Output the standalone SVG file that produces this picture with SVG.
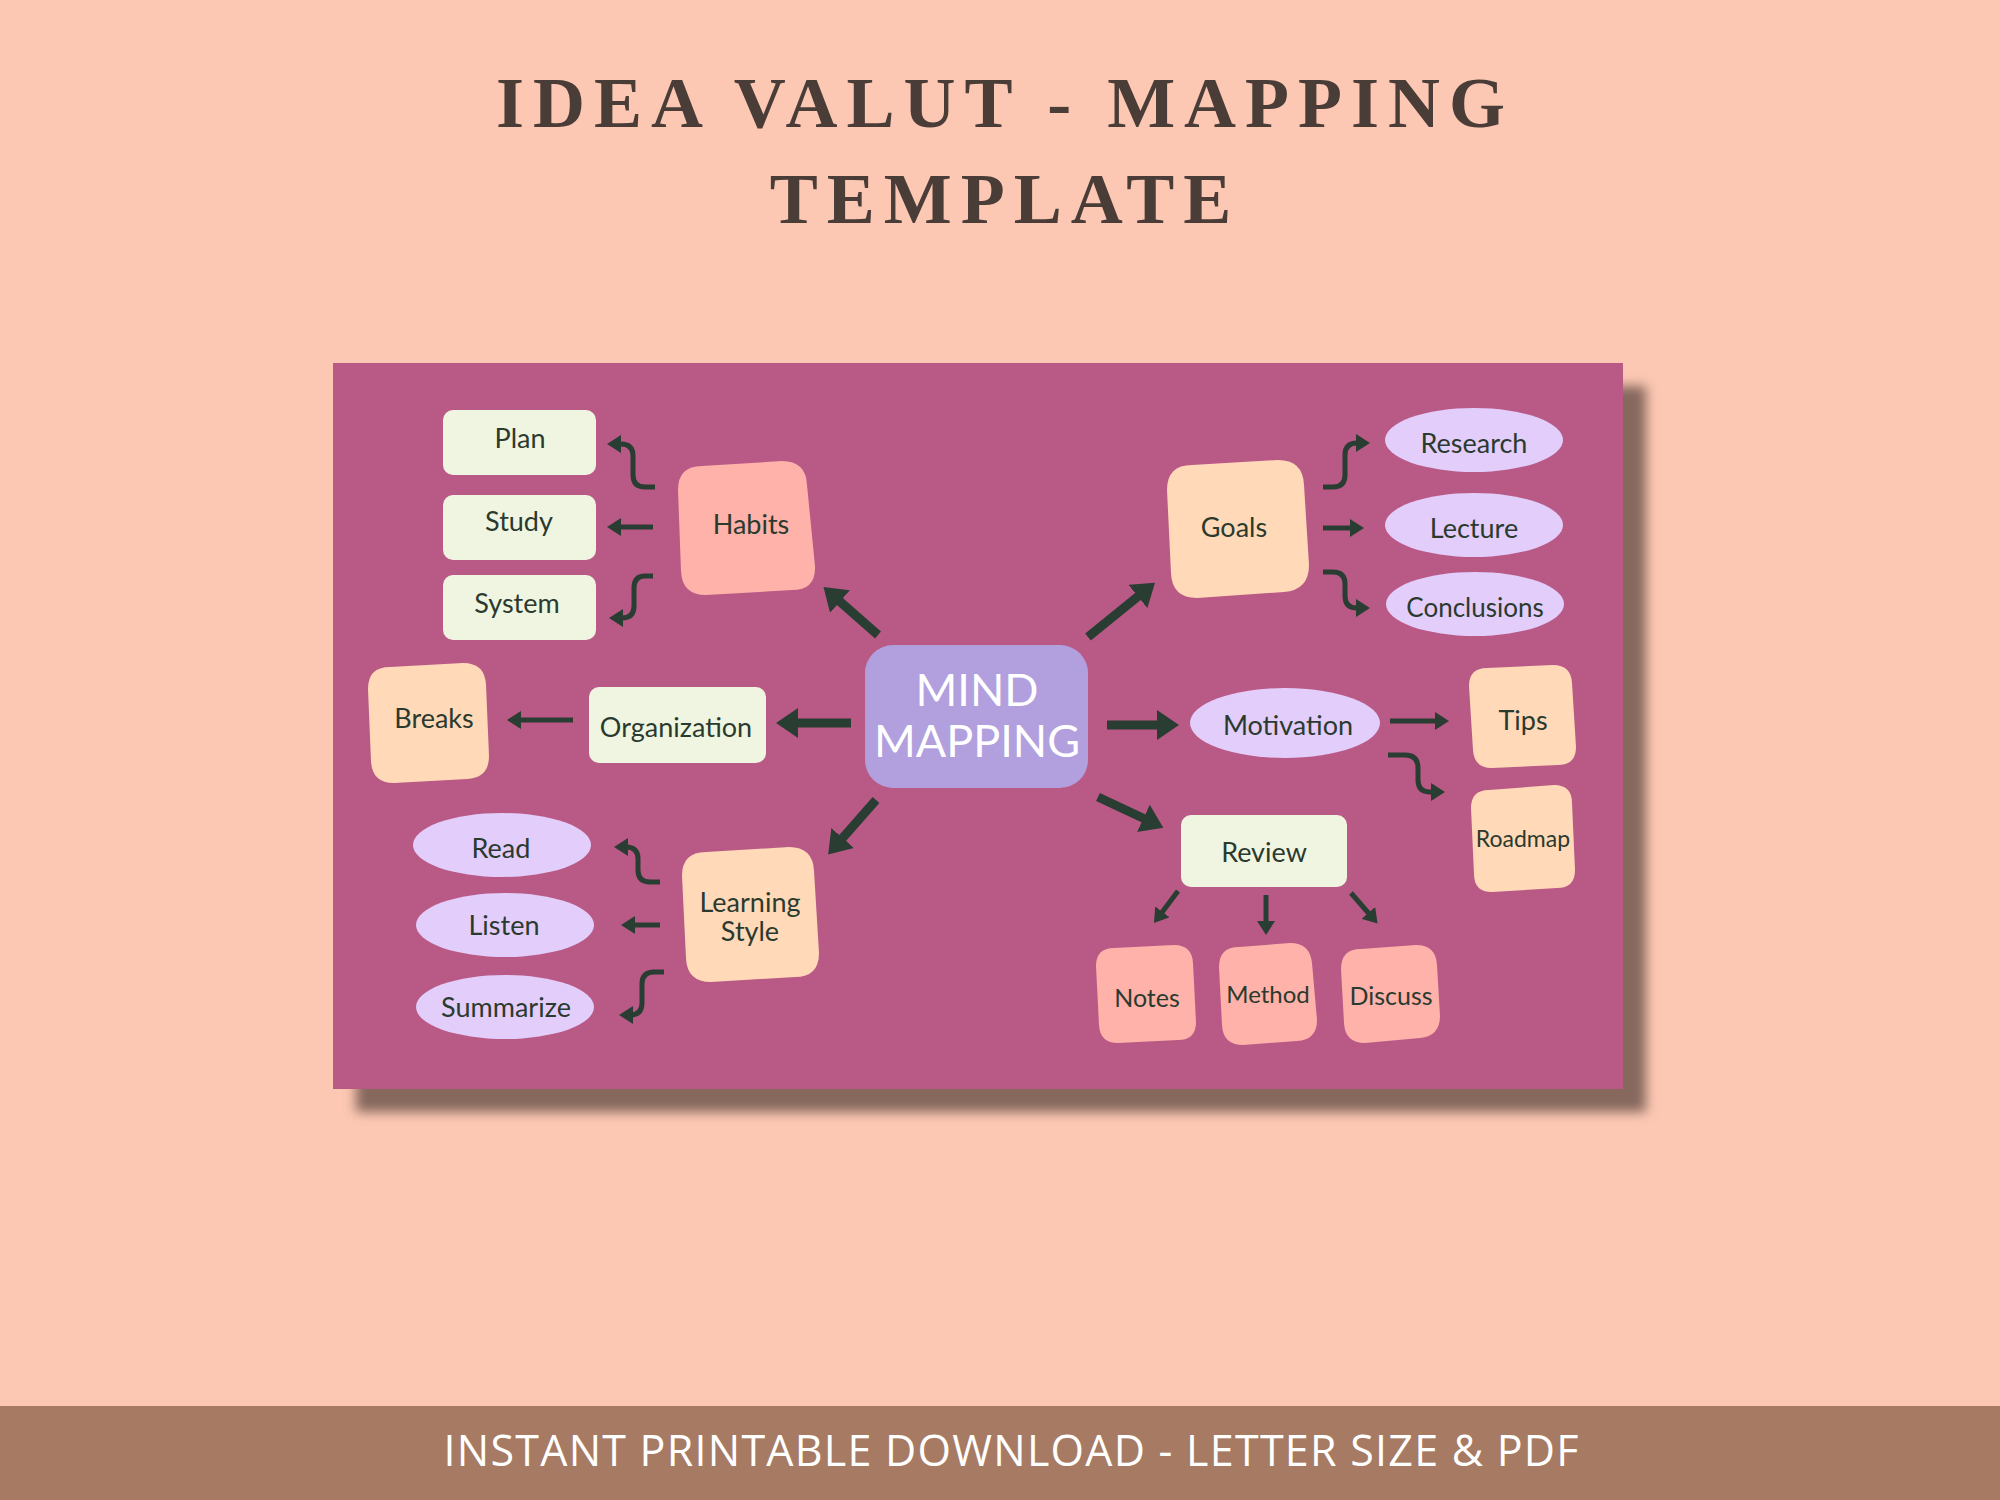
<svg xmlns="http://www.w3.org/2000/svg" width="2000" height="1500" viewBox="0 0 2000 1500">
<defs>
<style>
.t{font-family:Lato,"Liberation Sans",sans-serif;fill:#2B3A2F;text-anchor:middle}
.green{fill:#F0F5E1}
.pink{fill:#FEB2A9}
.peach{fill:#FFD9B8}
.lav{fill:#E2CDFB}
.sm{fill:none;stroke:#2A3D32;stroke-width:5;stroke-linecap:butt;stroke-linejoin:round;marker-end:url(#hs)}
.bg{fill:none;stroke:#2A3D32;stroke-width:9;stroke-linecap:butt;marker-end:url(#hb)}
</style>
<marker id="hs" viewBox="0 0 14 18" markerUnits="userSpaceOnUse" markerWidth="14" markerHeight="18" refX="4" refY="9" orient="auto">
<path d="M0,0 L14,9 L0,18 Z" fill="#2A3D32"/>
</marker>
<marker id="hb" viewBox="0 0 22 30" markerUnits="userSpaceOnUse" markerWidth="22" markerHeight="30" refX="4" refY="15" orient="auto">
<path d="M0,0 L22,15 L0,30 Z" fill="#2A3D32"/>
</marker>
<filter id="blur" x="-5%" y="-5%" width="110%" height="110%">
<feGaussianBlur stdDeviation="6"/>
</filter>
</defs>
<rect width="2000" height="1500" fill="#FCC8B3"/>
<g id="title" font-family="'Liberation Serif',serif" font-weight="bold" font-size="72" fill="#4A3D38" text-anchor="middle" letter-spacing="9">
<text x="1005" y="127">IDEA VALUT - MAPPING</text>
<text x="1005" y="223">TEMPLATE</text>
</g>
<g id="banner">
<rect x="0" y="1406" width="2000" height="94" fill="#A67A63"/>
<text x="1011" y="1466" font-family="'Open Sans','Liberation Sans',sans-serif" font-size="43" fill="#FFFFFF" text-anchor="middle" textLength="1135" lengthAdjust="spacing">INSTANT PRINTABLE DOWNLOAD - LETTER SIZE &amp; PDF</text>
</g>
<rect x="356" y="386" width="1290" height="726" fill="#86685D" filter="url(#blur)"/>
<rect id="panel" x="333" y="363" width="1290" height="726" fill="#B95A86"/>

<g id="connectors">
<path class="sm" d="M655,487 H645 Q633,487 633,475 V456 Q633,444 621,444 H617"/>
<path class="sm" d="M653,527 H617"/>
<path class="sm" d="M653,576 H645 Q634,576 634,588 V606 Q634,618 622,618 H619"/>
<path class="sm" d="M573,720 H517"/>
<path class="sm" d="M1323,487 H1333 Q1345,487 1345,475 V455 Q1345,443 1357,443 H1360"/>
<path class="sm" d="M1323,528 H1354"/>
<path class="sm" d="M1323,572 H1333 Q1345,572 1345,584 V596 Q1345,608 1357,608 H1360"/>
<path class="sm" d="M1390,721 H1439"/>
<path class="sm" d="M1388,755 H1405 Q1418,755 1418,768 V780 Q1418,792 1430,792 H1435"/>
<path class="sm" d="M660,882 H650 Q638,882 638,870 V859 Q638,847 626,847 H624"/>
<path class="sm" d="M660,925 H631"/>
<path class="sm" d="M664,972 H654 Q642,972 642,984 V1003 Q642,1015 630,1015 H629"/>
<path class="sm" d="M1178,891 L1160,915"/>
<path class="sm" d="M1266,895 V925"/>
<path class="sm" d="M1351,893 L1371,916"/>
<path class="bg" d="M878,635 L837,599"/>
<path class="bg" d="M851,723 L794,723"/>
<path class="bg" d="M876,800 L840,841"/>
<path class="bg" d="M1088,637 L1141,594"/>
<path class="bg" d="M1107,725 L1161,725"/>
<path class="bg" d="M1098,797 L1147,820"/>
</g>

<g id="mind">
<rect x="865" y="645" width="223" height="143" rx="28" fill="#B19FDE"/>
<text x="977" y="706" font-family="Lato,'Liberation Sans',sans-serif" font-size="45" fill="#FFFFFF" text-anchor="middle">MIND</text>
<text x="977" y="757" font-family="Lato,'Liberation Sans',sans-serif" font-size="45" fill="#FFFFFF" text-anchor="middle">MAPPING</text>
</g>

<g id="plan"><rect class="green" x="443" y="410" width="153" height="65" rx="10"/><text class="t" x="520" y="448" font-size="27">Plan</text></g>
<g id="study"><rect class="green" x="443" y="495" width="153" height="65" rx="10"/><text class="t" x="519" y="531" font-size="27">Study</text></g>
<g id="system"><rect class="green" x="443" y="575" width="153" height="65" rx="10"/><text class="t" x="517" y="613" font-size="27">System</text></g>
<g id="organization"><rect class="green" x="589" y="687" width="177" height="76" rx="10"/><text class="t" x="676" y="737" font-size="27">Organization</text></g>
<g id="review"><rect class="green" x="1181" y="815" width="166" height="72" rx="10"/><text class="t" x="1264" y="862" font-size="27">Review</text></g>

<g id="habits"><path class="pink" d="M702,466 L782,461 Q806,461 807,485 L815,566 Q816,590 792,590 L706,595 Q682,595 681,571 L678,490 Q678,466 702,466 Z"/><text class="t" x="751" y="534" font-size="27">Habits</text></g>
<g id="breaks"><path class="peach" d="M390,667 L463,663 Q485,663 486,685 L489,756 Q489,778 467,779 L394,783 Q372,783 371,761 L368,689 Q368,667 390,667 Z"/><text class="t" x="434" y="728" font-size="27">Breaks</text></g>
<g id="goals"><path class="peach" d="M1192,465 L1278,460 Q1303,460 1304,485 L1309,565 Q1309,590 1284,592 L1197,598 Q1172,598 1171,573 L1167,490 Q1167,465 1192,465 Z"/><text class="t" x="1234" y="537" font-size="27">Goals</text></g>
<g id="tips"><path class="peach" d="M1487,668 L1553,665 Q1571,665 1572,683 L1576,747 Q1576,765 1558,765 L1492,768 Q1474,768 1473,750 L1469,686 Q1469,668 1487,668 Z"/><text class="t" x="1523" y="730" font-size="27">Tips</text></g>
<g id="roadmap"><path class="peach" d="M1489,790 L1554,785 Q1572,785 1572,803 L1575,870 Q1575,888 1557,888 L1492,892 Q1474,892 1474,874 L1471,808 Q1471,790 1489,790 Z"/><text class="t" x="1523" y="847" font-size="23">Roadmap</text></g>
<g id="learning"><path class="peach" d="M706,852 L789,847 Q813,847 814,871 L819,953 Q819,977 795,977 L711,982 Q687,982 686,958 L682,876 Q682,852 706,852 Z"/><text class="t" x="750" y="912" font-size="27">Learning</text><text class="t" x="750" y="941" font-size="27">Style</text></g>
<g id="notes"><path class="pink" d="M1114,948 L1174,945 Q1192,945 1193,963 L1196,1022 Q1196,1040 1178,1040 L1118,1043 Q1100,1043 1099,1025 L1096,966 Q1096,948 1114,948 Z"/><text class="t" x="1147" y="1007" font-size="25">Notes</text></g>
<g id="method"><path class="pink" d="M1239,947 L1290,943 Q1310,943 1312,963 L1317,1020 Q1317,1040 1297,1041 L1243,1045 Q1223,1045 1222,1025 L1219,967 Q1219,947 1239,947 Z"/><text class="t" x="1268" y="1003" font-size="24">Method</text></g>
<g id="discuss"><path class="pink" d="M1361,949 L1416,945 Q1436,945 1437,965 L1440,1016 Q1440,1036 1420,1038 L1365,1043 Q1345,1043 1344,1023 L1341,969 Q1341,949 1361,949 Z"/><text class="t" x="1391" y="1005" font-size="25">Discuss</text></g>

<g id="research"><ellipse class="lav" cx="1474" cy="440" rx="89" ry="32"/><text class="t" x="1474" y="453" font-size="27">Research</text></g>
<g id="lecture"><ellipse class="lav" cx="1474" cy="525" rx="89" ry="32"/><text class="t" x="1474" y="538" font-size="27">Lecture</text></g>
<g id="conclusions"><ellipse class="lav" cx="1475" cy="604" rx="89" ry="32"/><text class="t" x="1475" y="617" font-size="26">Conclusions</text></g>
<g id="motivation"><ellipse class="lav" cx="1285" cy="723" rx="95" ry="35"/><text class="t" x="1288" y="735" font-size="27">Motivation</text></g>
<g id="read"><ellipse class="lav" cx="502" cy="845" rx="89" ry="32"/><text class="t" x="501" y="858" font-size="27">Read</text></g>
<g id="listen"><ellipse class="lav" cx="505" cy="925" rx="89" ry="32"/><text class="t" x="504" y="935" font-size="27">Listen</text></g>
<g id="summarize"><ellipse class="lav" cx="505" cy="1007" rx="89" ry="32"/><text class="t" x="506" y="1017" font-size="27">Summarize</text></g>
</svg>
